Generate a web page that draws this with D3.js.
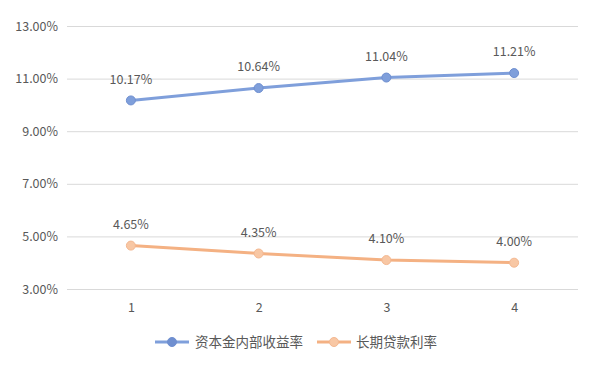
<!DOCTYPE html>
<html><head><meta charset="utf-8">
<script src="https://cdn.jsdelivr.net/npm/d3@7/dist/d3.min.js"></script>
<style>body{margin:0;background:#fff}svg{display:block}</style>
</head><body><svg id="c" width="600" height="373"></svg>
<script>
const categories = ["1","2","3","4"];
const irrValues = [10.17, 10.64, 11.04, 11.21];
const loanValues = [4.65, 4.35, 4.10, 4.00];
const yTicks = [3, 5, 7, 9, 11, 13];
const seriesNames = ["资本金内部收益率", "长期贷款利率"];

(function(){
const svg = d3.select("#c");
const font = "'Noto Sans CJK SC', 'Microsoft YaHei', sans-serif";
const pLeft = 67, pRight = 578, pTop = 26, pBottom = 289;
const x = d3.scalePoint().domain(categories).range([pLeft, pRight]).padding(0.5);
const y = d3.scaleLinear().domain([3, 13]).range([pBottom, pTop]);

const yAxis = d3.axisLeft(y).tickValues(yTicks).tickSize(-(pRight-pLeft)).tickFormat(d => d3.format(".2f")(d) + "%");
const gy = svg.append("g").attr("transform", `translate(${pLeft},0)`).call(yAxis);
gy.select(".domain").remove();
gy.selectAll(".tick line").attr("stroke", "#d9d9d9").attr("stroke-width", 1);
gy.selectAll(".tick text").attr("x", -9).attr("fill", "#595959").attr("font-size", 12.5).attr("font-family", font);

const xAxis = d3.axisBottom(x).tickSize(0);
const gx = svg.append("g").attr("transform", `translate(0,${pBottom})`).call(xAxis);
gx.select(".domain").remove();
gx.selectAll(".tick text").attr("dy", "0.35em").attr("y", 19).attr("fill", "#595959").attr("font-size", 12.5).attr("font-family", font);

const series = [
  {name: seriesNames[0], values: irrValues, line: "#7f9fdb", fill: "#7f9fdb", stroke: "#6f8fd0"},
  {name: seriesNames[1], values: loanValues, line: "#f4b183", fill: "#f8c7a4", stroke: "#f4b891"}
];
const line = d3.line().x((d,i) => x(categories[i])).y(d => y(d));
series.forEach(s => {
  svg.append("path").datum(s.values).attr("d", line).attr("fill", "none")
    .attr("stroke", s.line).attr("stroke-width", 3).attr("stroke-linejoin", "round");
  svg.selectAll(null).data(s.values).enter().append("circle")
    .attr("cx", (d,i) => x(categories[i])).attr("cy", d => y(d)).attr("r", 4.5)
    .attr("fill", s.fill).attr("stroke", s.stroke).attr("stroke-width", 1);
  svg.selectAll(null).data(s.values).enter().append("text")
    .attr("x", (d,i) => x(categories[i])).attr("y", d => y(d) - 21)
    .attr("dy", "0.35em").attr("text-anchor", "middle")
    .attr("fill", "#595959").attr("font-size", 12.5).attr("font-family", font)
    .text(d => d3.format(".2f")(d) + "%");
});

const legendItems = [{s: series[0], x0: 155, tx: 195, mk: "#6f8fd0"}, {s: series[1], x0: 317, tx: 356, mk: "#f8c7a4"}];
legendItems.forEach(l => {
  const g = svg.append("g");
  g.append("line").attr("x1", l.x0).attr("x2", l.x0 + 34).attr("y1", 342).attr("y2", 342)
    .attr("stroke", l.s.line).attr("stroke-width", 3);
  g.append("circle").attr("cx", l.x0 + 17).attr("cy", 342).attr("r", 4.5)
    .attr("fill", l.mk).attr("stroke", l.s.stroke);
  g.append("text").attr("x", l.tx).attr("y", 342).attr("dy", "0.35em")
    .attr("fill", "#595959").attr("font-size", 13.5).attr("font-family", font).text(l.s.name);
});
})();
</script></body></html>
